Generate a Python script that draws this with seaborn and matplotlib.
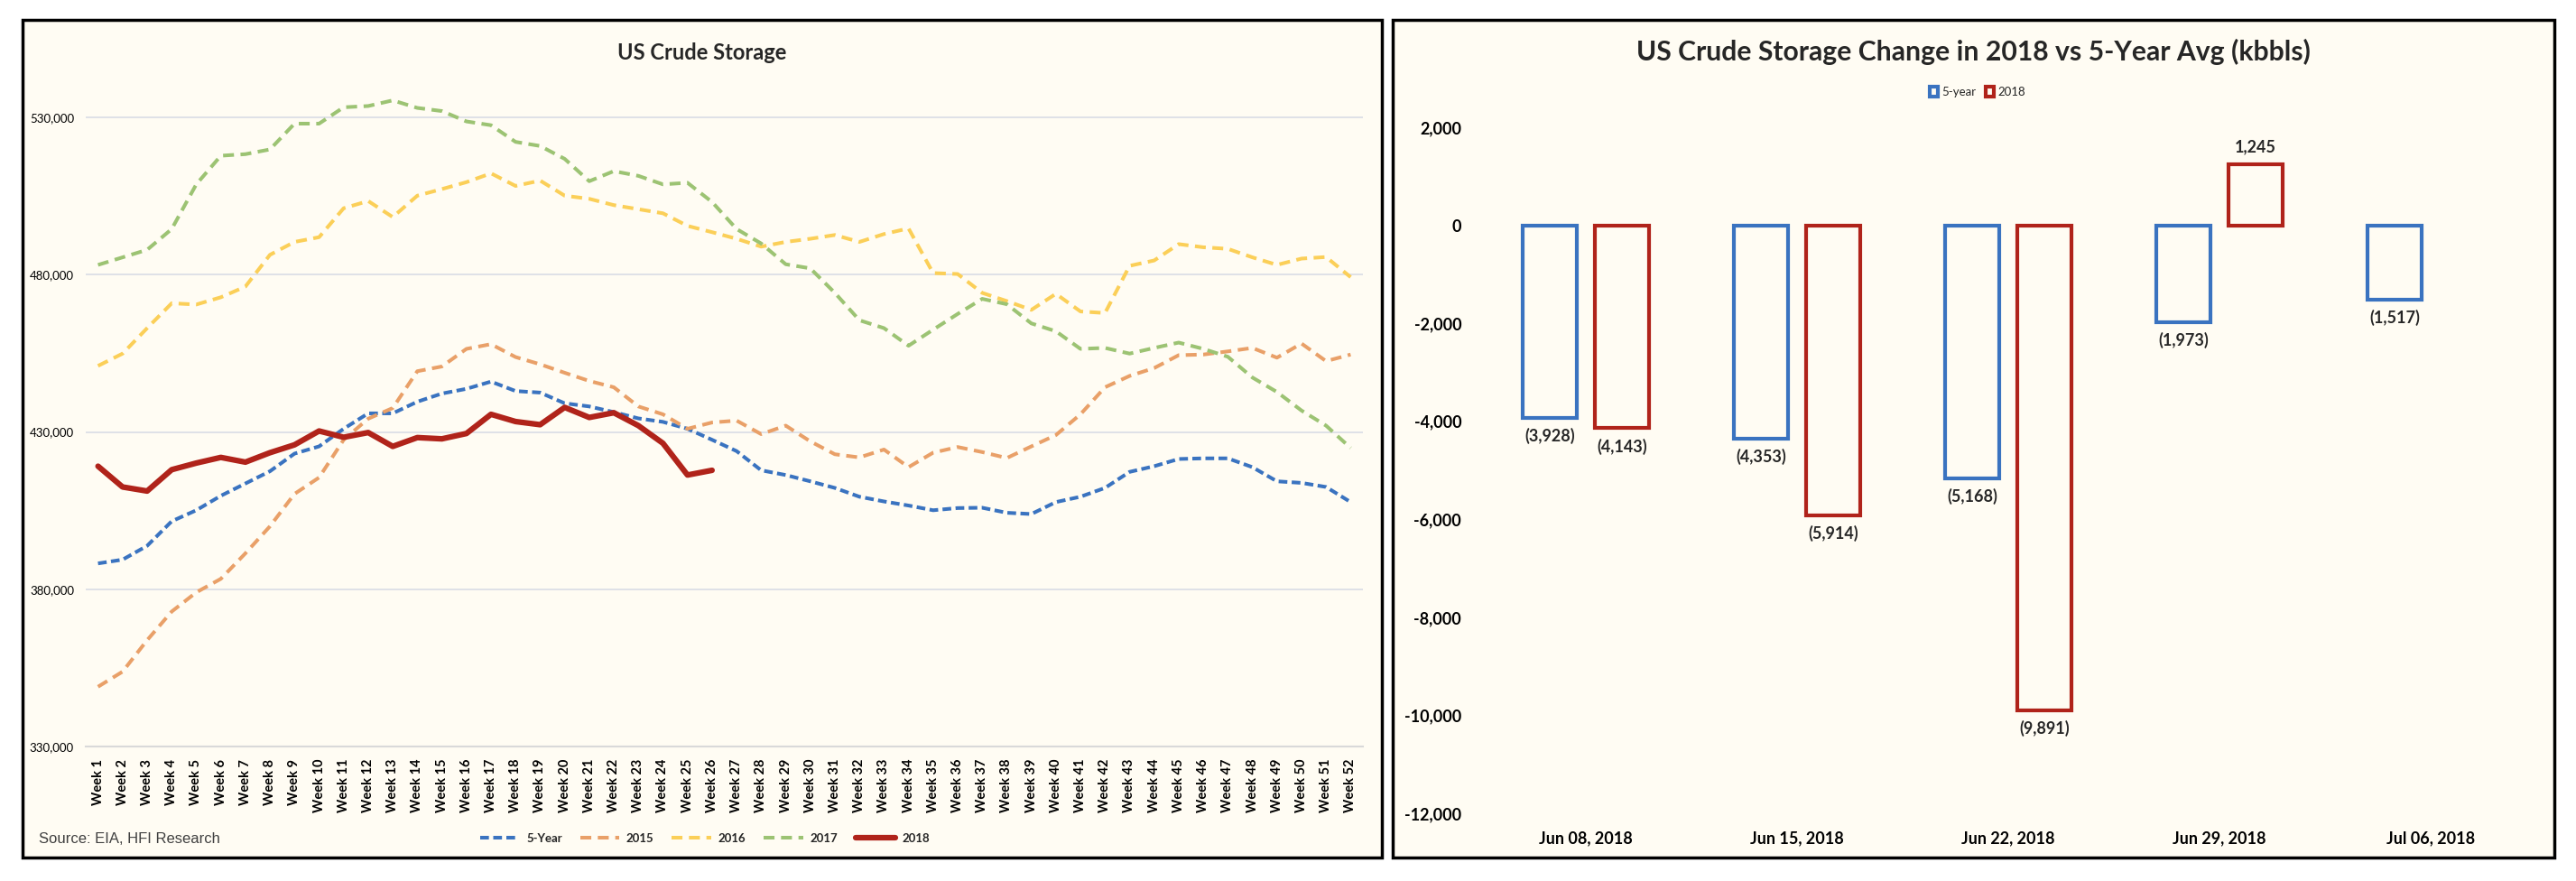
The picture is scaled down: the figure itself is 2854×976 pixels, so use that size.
import matplotlib
matplotlib.use("Agg")
import matplotlib.pyplot as plt
import numpy as np
import pandas as pd
import seaborn as sns
from matplotlib.patches import Rectangle
from matplotlib.ticker import FuncFormatter

# weekly US crude storage (kbbls)
weeks = [f"Week {i}" for i in range(1, 53)]

five_year = [388200, 389400, 393800, 401600, 405100, 409700, 413600, 417500, 423100, 425400,
             431000, 435900, 435900, 439600, 442200, 443700, 446000, 443000, 442500, 439100,
             438100, 436300, 434300, 433200, 431000, 427500, 423900, 417800, 416300, 414300,
             412200, 409400, 407900, 406600, 405100, 405800, 405900, 404300, 403900, 407700,
             409400, 412200, 417300, 419100, 421400, 421600, 421600, 418800, 414300, 413800,
             412500, 407700]
y2015 = [349000, 353800, 363800, 372900, 379000, 383300, 391400, 400000, 410300, 415500,
         427500, 434200, 437600, 449300, 450800, 456400, 457900, 453800, 451500, 448800,
         446200, 444200, 438100, 435600, 431000, 433000, 433600, 429300, 432000, 427000,
         422900, 421900, 424400, 418800, 423400, 425200, 423600, 421700, 425400, 429000,
         435600, 444200, 447800, 450300, 454400, 454600, 455600, 456700, 453600, 458100,
         452500, 454600]
y2016 = [451000, 454900, 463000, 470900, 470500, 472800, 476200, 486300, 490400, 491900,
         501100, 503400, 498300, 505100, 507200, 509400, 512200, 508200, 509900, 505100,
         504100, 502100, 500800, 499500, 495500, 493500, 491400, 488900, 490400, 491400,
         492600, 490400, 492900, 494700, 480500, 480200, 474200, 471600, 468800, 473900,
         468300, 467800, 482800, 484500, 489700, 488700, 488200, 485500, 483100, 485100,
         485600, 479200]
y2017 = [483100, 485500, 487900, 494500, 508700, 517800, 518300, 519800, 528000, 528000,
         533200, 533600, 535400, 533000, 532000, 528700, 527500, 522200, 520900, 516800,
         509700, 512900, 511400, 508700, 509200, 503100, 494500, 489900, 483300, 482000,
         474200, 465500, 463000, 457400, 462500, 467500, 472300, 470600, 464500, 462000,
         456400, 456700, 454900, 456700, 458400, 456400, 453900, 447300, 442700, 436800,
         432000, 424900]
y2018 = [419100, 412500, 411200, 418000, 420100, 421900, 420400, 423400, 425900, 430300,
         428300, 429800, 425400, 428200, 427800, 429500, 435600, 433300, 432300, 437800,
         434600, 436100, 432000, 426400, 416300, 417800]

# weekly change vs 5-year average (kbbls)
dates = ["Jun 08, 2018", "Jun 15, 2018", "Jun 22, 2018", "Jun 29, 2018", "Jul 06, 2018"]
chg_5yr = [-3928, -4353, -5168, -1973, -1517]
chg_2018 = [-4143, -5914, -9891, 1245, np.nan]

W, H = 2854, 976
CREAM = "#FFFCF3"
BLUE = "#3A73C0"
RED = "#B0231A"


def fx(px):
    return px / W


def fy(py):
    return 1 - py / H


sns.set_theme(style="white")
plt.rcParams["font.family"] = ["Lato", "DejaVu Sans"]

fig = plt.figure(figsize=(W / 100, H / 100), dpi=100)
fig.patch.set_facecolor("white")

# panel frames
for x0, x1 in [(25, 1531), (1543, 2830)]:
    fig.patches.append(Rectangle((fx(x0), fy(950)), fx(x1) - fx(x0), fy(22) - fy(950),
                                 transform=fig.transFigure, facecolor=CREAM,
                                 edgecolor="black", linewidth=2.5, zorder=-10))

# ---------------- left: storage lines ----------------
ax1 = fig.add_axes([fx(95), fy(827), fx(1510) - fx(95), fy(60.3) - fy(827)])
ax1.set_facecolor("none")
ax1.set_zorder(2)

series = [
    ("5-Year", five_year, BLUE, 2.9, (0, (2.4, 1.2))),
    ("2015", y2015, "#E9A068", 2.9, (0, (3.0, 1.8))),
    ("2016", y2016, "#FBCF58", 2.9, (0, (3.0, 1.8))),
    ("2017", y2017, "#9CC373", 2.9, (0, (3.0, 1.8))),
    ("2018", y2018, RED, 4.5, "-"),
]
for name, vals, col, lw, ls in series:
    sns.lineplot(x=np.arange(len(vals)), y=vals, color=col, linewidth=lw, linestyle=ls,
                 label=name, ax=ax1, solid_capstyle="round")

ax1.set_xlim(-0.5, 51.5)
ax1.set_ylim(330000, 550000)
ax1.set_yticks(np.arange(330000, 530001, 50000))
ax1.yaxis.set_major_formatter(FuncFormatter(lambda v, p: f"{v:,.0f}"))
ax1.set_xticks(np.arange(52))
ax1.set_xticklabels(weeks, rotation=90, fontsize=10.5, fontweight="bold")
ax1.set_xticks(np.arange(-0.5, 52, 1), minor=True)
ax1.tick_params(axis="x", which="major", length=0, pad=10, colors="black")
ax1.tick_params(axis="x", which="minor", length=3.6, width=1.2, color="#D9D9D9", direction="out")
ax1.tick_params(axis="y", length=0, pad=9.4, labelsize=9.5, colors="black")
ax1.yaxis.grid(True, color="#DCDFE6", linewidth=1.3)
ax1.xaxis.grid(False)
for s in ["top", "right", "left"]:
    ax1.spines[s].set_visible(False)
ax1.spines["bottom"].set_color("#D9D9D9")
ax1.spines["bottom"].set_linewidth(1.5)
ax1.set_xlabel("")
ax1.set_ylabel("")

h, l = ax1.get_legend_handles_labels()
ax1.legend(h, l, loc="center", bbox_to_anchor=(fx(781), fy(929)), bbox_transform=fig.transFigure,
           ncol=5, frameon=False, handlelength=3.3, handletextpad=0.6, columnspacing=1.5,
           prop={"weight": "bold", "size": 9.5})

fig.text(fx(778), fy(58), "US Crude Storage", ha="center", va="center",
         fontsize=17, fontweight="bold")
fig.text(fx(43), fy(929), "Source: EIA, HFI Research", ha="left", va="center",
         fontsize=12, color="#404040", family=["Liberation Sans", "DejaVu Sans"])

# ---------------- right: change bars ----------------
ax2 = fig.add_axes([fx(1640), fy(901), fx(2810) - fx(1640), fy(141) - fy(901)])
ax2.set_facecolor("none")
ax2.set_zorder(2)

bars = pd.DataFrame({"date": dates, "5-year": chg_5yr, "2018": chg_2018})
bars = bars.melt(id_vars="date", var_name="series", value_name="value").dropna()

sns.barplot(data=bars, x="date", y="value", hue="series", order=dates,
            hue_order=["5-year", "2018"], palette={"5-year": BLUE, "2018": RED},
            fill=False, width=0.68, gap=0.25, linewidth=3, errorbar=None, ax=ax2)


def paren(v):
    if np.isnan(v):
        return ""
    return f"({abs(v):,.0f})" if v < 0 else f"{v:,.0f}"


for cont in ax2.containers:
    ax2.bar_label(cont, labels=[paren(v) for v in cont.datavalues], padding=8,
                  fontsize=13, fontweight="bold")

ax2.set_ylim(-12000, 2000)
ax2.set_yticks(np.arange(-12000, 2001, 2000))
ax2.yaxis.set_major_formatter(FuncFormatter(lambda v, p: f"{v:,.0f}"))
ax2.tick_params(axis="y", length=0, pad=15, labelsize=13, colors="black")
ax2.tick_params(axis="x", length=0, pad=14, labelsize=13, colors="black")
for t in ax2.get_xticklabels() + ax2.get_yticklabels():
    t.set_fontweight("bold")
for s in ax2.spines.values():
    s.set_visible(False)
ax2.grid(False)
ax2.set_xlabel("")
ax2.set_ylabel("")

ax2.legend(loc="center", bbox_to_anchor=(fx(2191), fy(102)), bbox_transform=fig.transFigure,
           ncol=2, frameon=False, fontsize=9.5, handlelength=0.7, handleheight=0.9,
           handletextpad=0.3, columnspacing=0.8)

fig.text(fx(2186), fy(57), "US Crude Storage Change in 2018 vs 5-Year Avg (kbbls)",
         ha="center", va="center", fontsize=21.7, fontweight="bold")

fig.savefig("out.png", dpi=100, facecolor="white")
